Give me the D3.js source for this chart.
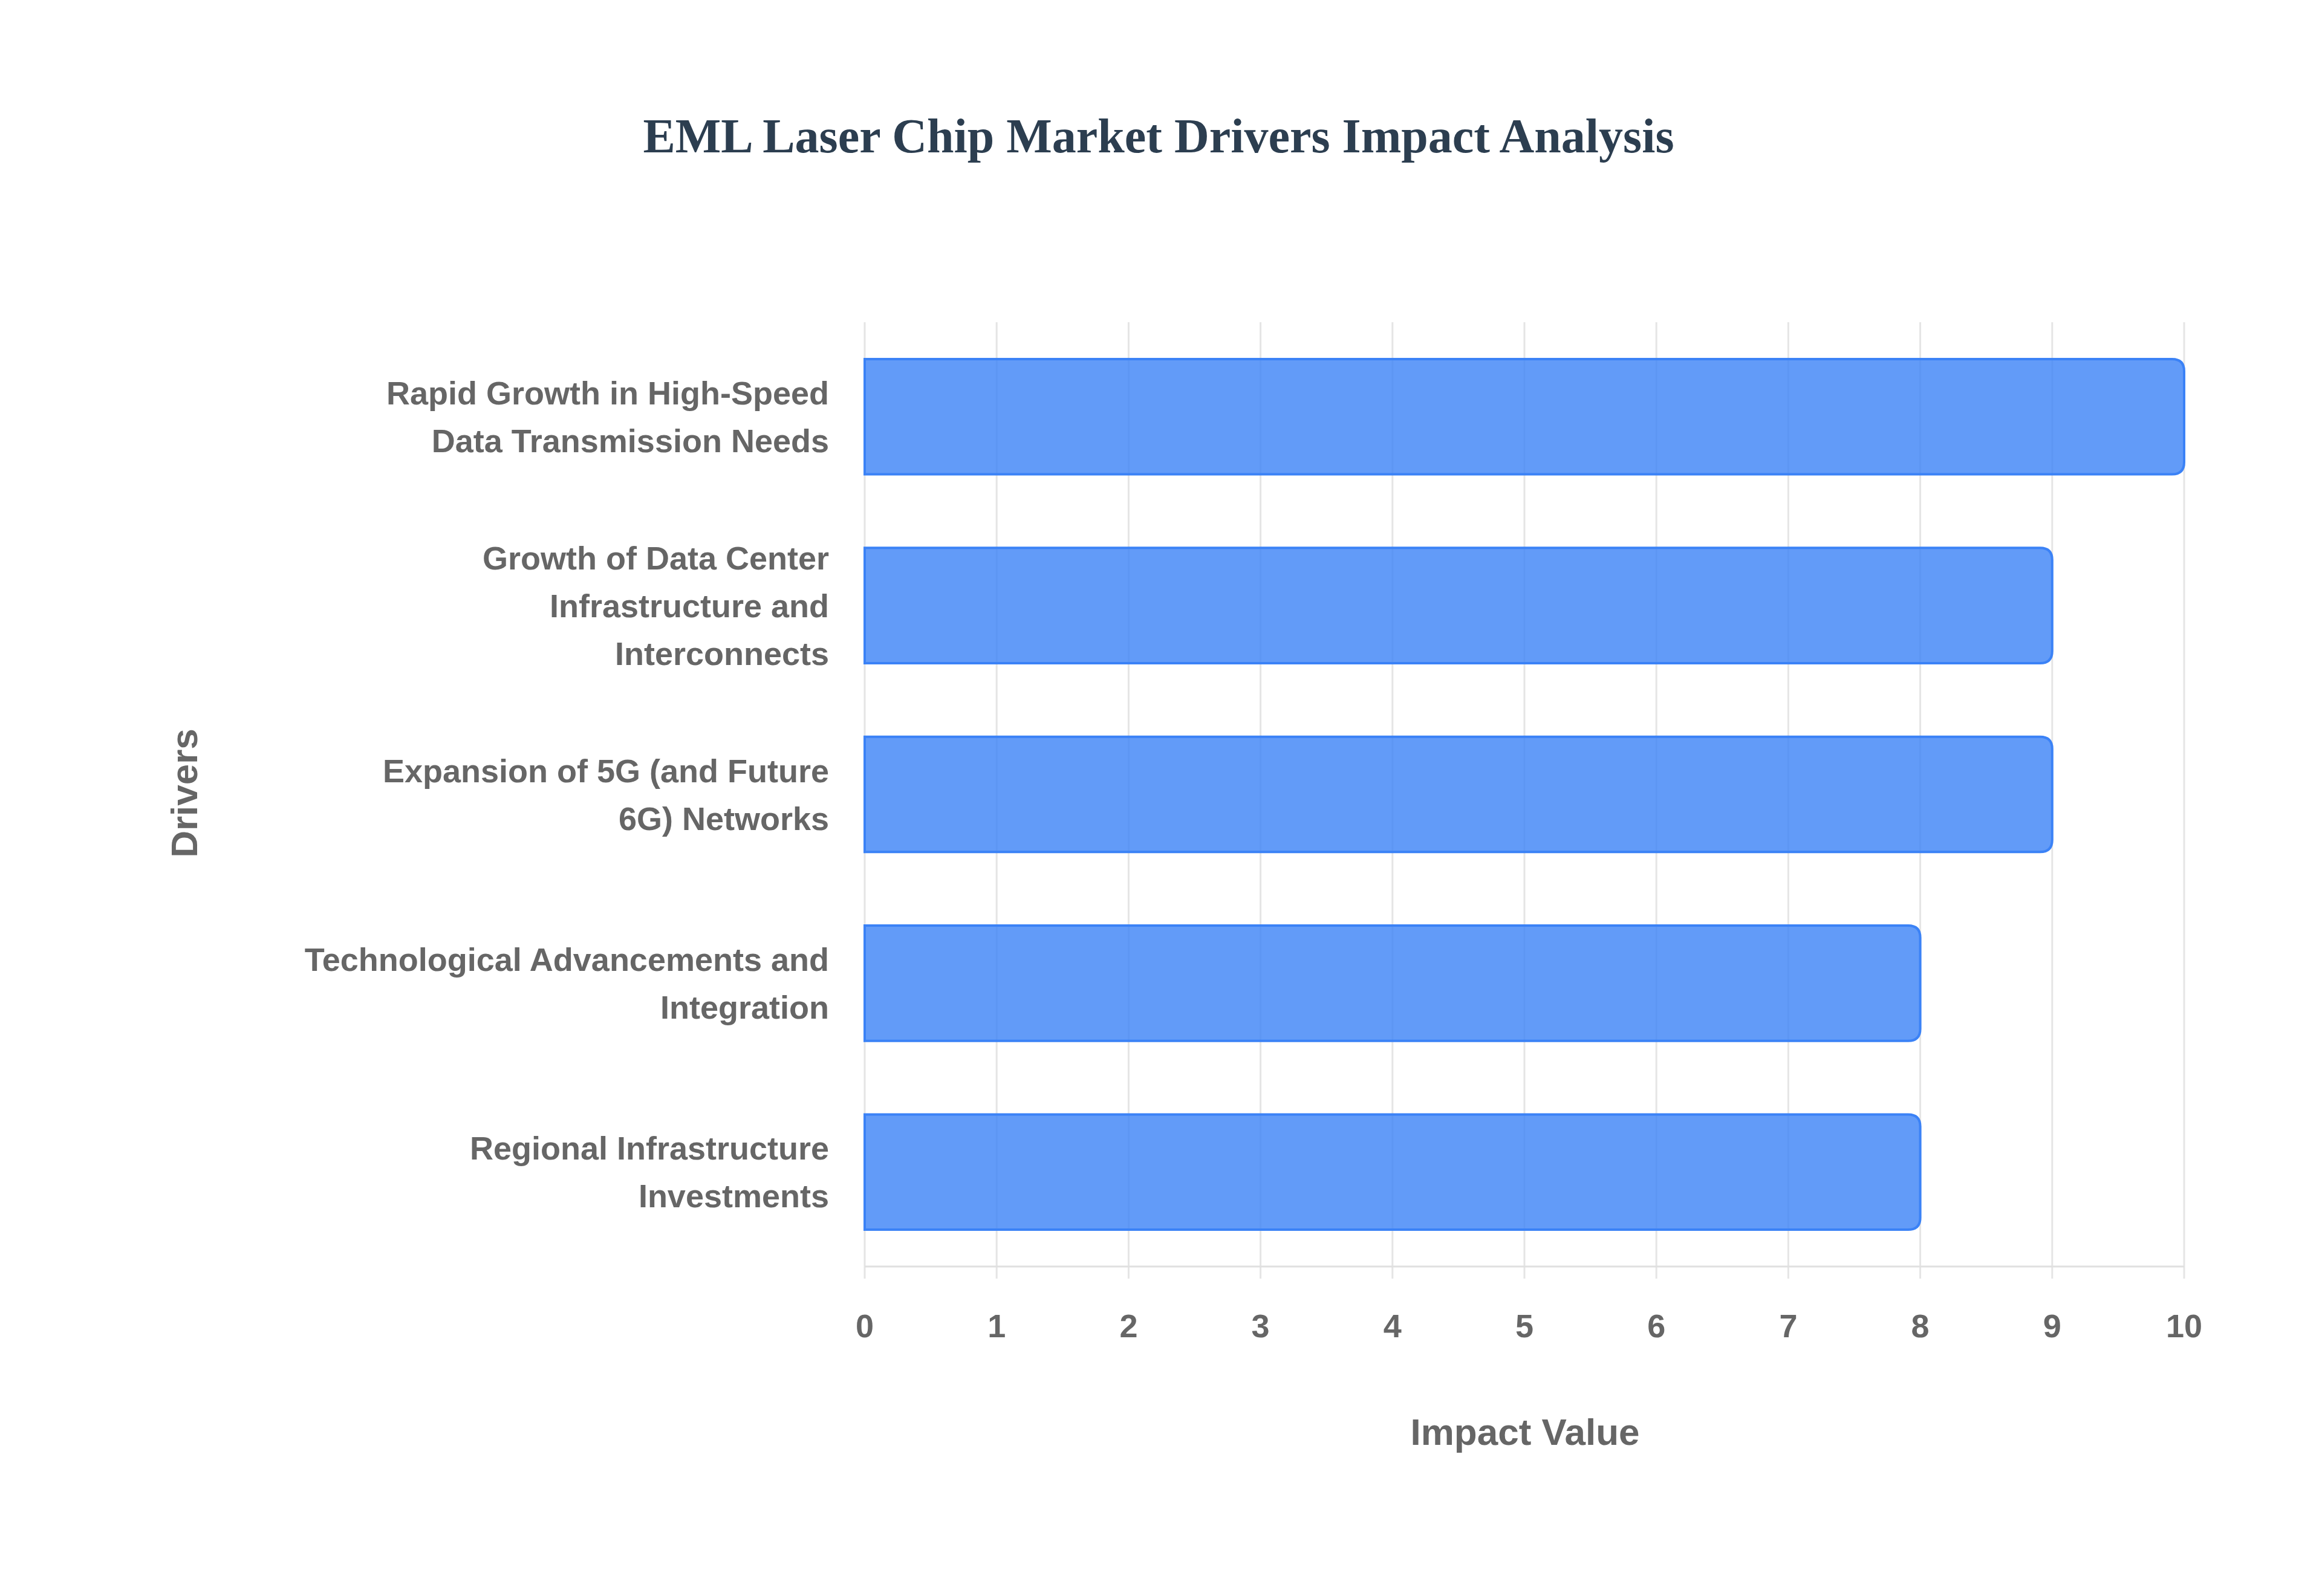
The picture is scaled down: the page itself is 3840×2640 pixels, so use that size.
<!DOCTYPE html>
<html>
<head>
<meta charset="utf-8" />
<script src="https://cdn.jsdelivr.net/npm/d3@7"></script>
<style>
  body { margin:0; padding:0; background:#fff; }
  text { font-family: 'Liberation Sans', Arial, sans-serif; }
</style>
</head>
<body>
<svg id="chart" width="3840" height="2640"></svg>
<script>
var drivers = [
  ["Rapid Growth in High-Speed", "Data Transmission Needs"],
  ["Growth of Data Center", "Infrastructure and", "Interconnects"],
  ["Expansion of 5G (and Future", "6G) Networks"],
  ["Technological Advancements and", "Integration"],
  ["Regional Infrastructure", "Investments"]
]
var impact = [10, 9, 9, 8, 8]
var ticks = [0,1,2,3,4,5,6,7,8,9,10]

var svg = d3.select("#chart")
var plotLeft = 1430, plotRight = 3612, plotTop = 533, plotBottom = 2095

var x = d3.scaleLinear().domain([0,10]).range([plotLeft,plotRight])
var y = d3.scaleBand().domain(d3.range(drivers.length)).range([plotTop,plotBottom])
  .paddingInner(0.39).paddingOuter(0.195)

// grid
svg.append("g").selectAll("line").data(ticks).join("line")
  .attr("x1", d=>x(d)).attr("x2", d=>x(d))
  .attr("y1", plotTop).attr("y2", plotBottom+20)
  .attr("stroke", "#e5e5e5").attr("stroke-width", 3)
svg.append("line").attr("x1", plotLeft).attr("x2", plotRight).attr("y1", plotBottom).attr("y2", plotBottom)
  .attr("stroke", "#e0e0e0").attr("stroke-width", 3)

// bars, rounded on the right end only
var r = 20
svg.append("g").selectAll("path").data(impact).join("path")
  .attr("d", function(d,i){
    var x0 = x(0), x1 = x(d), y0 = y(i), h = y.bandwidth()
    return "M"+x0+","+y0+"H"+(x1-r)+"Q"+x1+","+y0+" "+x1+","+(y0+r)
      +"V"+(y0+h-r)+"Q"+x1+","+(y0+h)+" "+(x1-r)+","+(y0+h)+"H"+x0+"Z"
  })
  .attr("fill", "rgba(59,130,246,0.8)")
  .attr("stroke", "#3b82f6").attr("stroke-width", 4)

// x tick labels
svg.append("g").selectAll("text").data(ticks).join("text")
  .attr("x", d=>x(d)).attr("y", 2212)
  .attr("text-anchor", "middle")
  .attr("font-size", 54).attr("font-weight", "bold").attr("fill", "#666")
  .text(d=>d)

// y labels
var lh = 79
drivers.forEach(function(lines, i){
  var cy = y(i) + y.bandwidth()/2
  var t = svg.append("text").attr("text-anchor", "end")
    .attr("font-size", 54).attr("font-weight", "bold").attr("fill", "#666")
  lines.forEach(function(s, j){
    t.append("tspan").attr("x", 1371)
      .attr("y", cy + (j - (lines.length-1)/2)*lh + 19)
      .text(s)
  })
})

// axis titles
svg.append("text").attr("x", 2522).attr("y", 2390).attr("text-anchor", "middle")
  .attr("font-size", 62).attr("font-weight", "bold").attr("fill", "#666")
  .text("Impact Value")
svg.append("text").attr("transform", "translate(326,1312) rotate(-90)")
  .attr("text-anchor", "middle")
  .attr("font-size", 62).attr("font-weight", "bold").attr("fill", "#666")
  .text("Drivers")

// title
svg.append("text").attr("x", 1916).attr("y", 252).attr("text-anchor", "middle")
  .style("font-family", "'Liberation Serif', 'Times New Roman', serif")
  .attr("font-size", 80).attr("font-weight", "bold").attr("fill", "#2c3e50")
  .text("EML Laser Chip Market Drivers Impact Analysis")
</script>
</body>
</html>
